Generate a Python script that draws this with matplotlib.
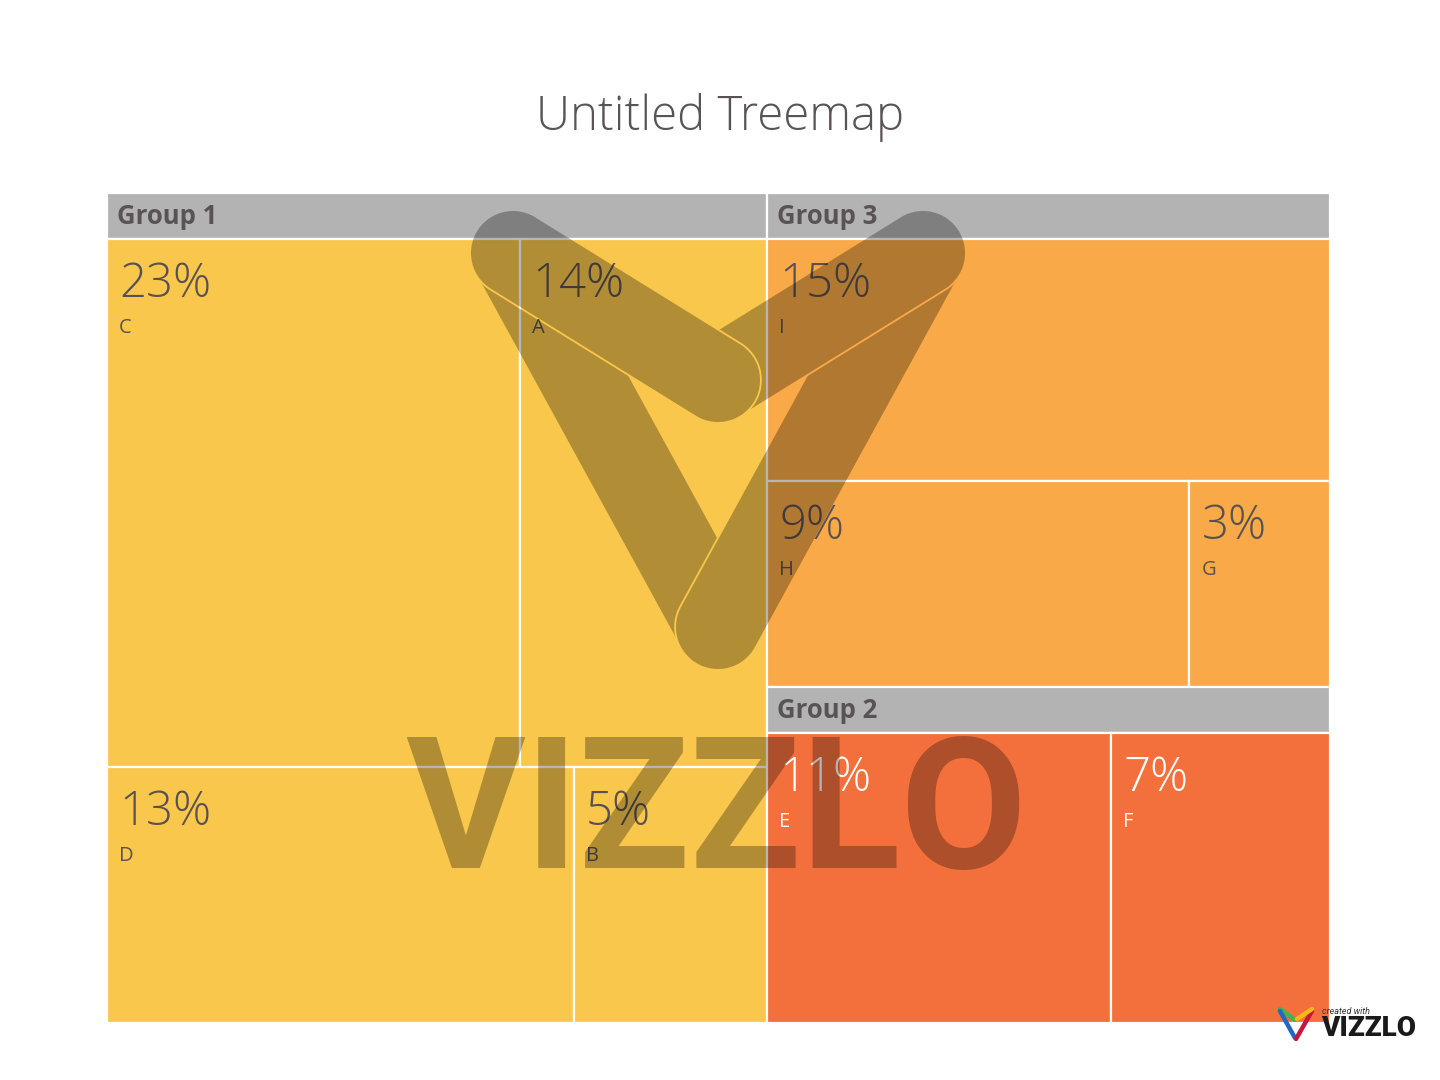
import numpy as np
import matplotlib
matplotlib.use("Agg")
import matplotlib.pyplot as plt
from matplotlib.patches import Rectangle
from matplotlib.lines import Line2D

# ---------------- data ----------------
title = "Untitled Treemap"
group_names = ["Group 1", "Group 3", "Group 2"]
group_colors = ["#F9C74C", "#F9A947", "#F3703C"]
group_text_colors = ["#575153", "#575153", "#FFFFFF"]

cell_labels = ["C", "A", "D", "B", "I", "H", "G", "E", "F"]
cell_values = [23.4, 14.0, 12.8, 5.3, 14.6, 9.3, 3.1, 10.7, 6.8]
cell_groups = ["Group 1", "Group 1", "Group 1", "Group 1",
               "Group 3", "Group 3", "Group 3",
               "Group 2", "Group 2"]
cell_rows = [0, 0, 1, 1, 0, 1, 1, 0, 0]

FONT = ["Open Sans", "DejaVu Sans"]
HEADER_BG = "#B3B3B3"
HEADER_FG = "#5A5355"

# ---------------- figure ----------------
fig = plt.figure(figsize=(14.4, 10.8), dpi=100)
fig.patch.set_facecolor("white")

PX_W, PX_H = 1440, 1080
L, T, R, B = 107, 193, 1330, 1023
ax = fig.add_axes([L / PX_W, 1 - B / PX_H, (R - L) / PX_W, (B - T) / PX_H])
W, H = R - L, B - T
ax.set_xlim(0, W)
ax.set_ylim(H, 0)
ax.axis("off")

hdr = 46.0
total = sum(cell_values)
gsum = {g: sum(v for v, gg in zip(cell_values, cell_groups) if gg == g) for g in group_names}
s1 = gsum["Group 1"] / total
s3 = gsum["Group 3"] / total
s2 = gsum["Group 2"] / total
Ah = H - hdr
Bh = H - 2 * hdr
w1 = s1 * W * Bh / (Ah * (1 - s1) + s1 * Bh)
c3 = Bh * s3 / (s3 + s2)

blocks = {
    "Group 1": (0.0, 0.0, w1, H),
    "Group 3": (w1, 0.0, W - w1, hdr + c3),
    "Group 2": (w1, hdr + c3, W - w1, H - hdr - c3),
}

EDGE = dict(edgecolor="white", linewidth=1.6)

for gi, g in enumerate(group_names):
    gx, gy, gw, gh = blocks[g]
    # header
    ax.add_patch(Rectangle((gx, gy), gw, hdr, facecolor=HEADER_BG, **EDGE))
    ax.text(gx + 10, gy + hdr / 2 + 1, g, ha="left", va="center",
            fontsize=18.5, fontweight="bold", color=HEADER_FG, family=FONT)
    idx = [i for i, gg in enumerate(cell_groups) if gg == g]
    rows = sorted(set(cell_rows[i] for i in idx))
    cy = gy + hdr
    ch_total = gh - hdr
    gtot = sum(cell_values[i] for i in idx)
    for r in rows:
        ridx = [i for i in idx if cell_rows[i] == r]
        rsum = sum(cell_values[i] for i in ridx)
        rh = ch_total * rsum / gtot
        cx = gx
        for i in ridx:
            cw = gw * cell_values[i] / rsum
            ax.add_patch(Rectangle((cx, cy), cw, rh, facecolor=group_colors[gi], **EDGE))
            ax.text(cx + 12, cy + 58, f"{round(cell_values[i])}%", ha="left",
                    va="baseline", fontsize=34, fontweight="light",
                    color=group_text_colors[gi], family=FONT)
            ax.text(cx + 12, cy + 94, cell_labels[i], ha="left", va="baseline",
                    fontsize=14.5, fontweight="normal",
                    color=group_text_colors[gi], family=FONT)
            cx += cw
        cy += rh

# ---------------- title ----------------
fig.text(0.5, 1 - 118 / PX_H, title, ha="center", va="center", fontsize=34,
         fontweight="light", color="#5A5355", family=FONT)

# ---------------- watermark (logo) ----------------
yy, xx = np.mgrid[0:PX_H, 0:PX_W].astype(float)
yy += 0.5
xx += 0.5


def capsule_dist(p0, p1):
    ax_, ay_ = p0
    dx, dy = p1[0] - ax_, p1[1] - ay_
    t = ((xx - ax_) * dx + (yy - ay_) * dy) / (dx * dx + dy * dy)
    t = np.clip(t, 0, 1)
    return np.hypot(xx - ax_ - t * dx, yy - ay_ - t * dy)


strokes = [((513, 253), (718, 627)),
           ((923, 253), (718, 627)),
           ((923, 253), (718, 380)),
           ((513, 253), (718, 380))]
rad, gap = 42.0, 1.8
amap = np.zeros((PX_H, PX_W))
for p0, p1 in strokes:
    d = capsule_dist(p0, p1)
    outer = np.clip(rad + gap + 0.5 - d, 0, 1)
    inner = np.clip(rad + 0.5 - d, 0, 1)
    amap = amap * (1 - outer) + inner
rgba = np.zeros((PX_H, PX_W, 4))
rgba[..., 3] = 0.29 * amap
fig.figimage(rgba, xo=0, yo=0, origin="upper", zorder=10)

fig.text(405 / PX_W, 1 - 868 / PX_H, "VIZZLO", ha="left", va="baseline",
         fontsize=132, fontweight="bold", family=["Roboto", "DejaVu Sans"],
         color="black", alpha=0.29, zorder=11)

# ---------------- small "created with VIZZLO" badge ----------------
badge = [((1280, 1009), (1295, 1020), "#3DB54A"),
         ((1280, 1011), (1295, 1038), "#2167C3"),
         ((1312, 1011), (1296, 1039), "#C4173C"),
         ((1312, 1009), (1297, 1019), "#F7B619")]
for (x0, y0), (x1, y1), c in badge:
    fig.add_artist(Line2D([x0 / PX_W, x1 / PX_W], [1 - y0 / PX_H, 1 - y1 / PX_H],
                          transform=fig.transFigure, color=c, linewidth=3.2,
                          solid_capstyle="round", zorder=12))
fig.text(1322 / PX_W, 1 - 1014 / PX_H, "created with", ha="left", va="baseline",
         fontsize=6.5, style="italic", color="#333333",
         family=["Roboto", "DejaVu Sans"], zorder=12)
fig.text(1321 / PX_W, 1 - 1036 / PX_H, "VIZZLO", ha="left", va="baseline",
         fontsize=20, fontweight="black", color="#1A1A1A",
         family=["Roboto", "DejaVu Sans"], zorder=12)

fig.savefig("out.png", dpi=100)
